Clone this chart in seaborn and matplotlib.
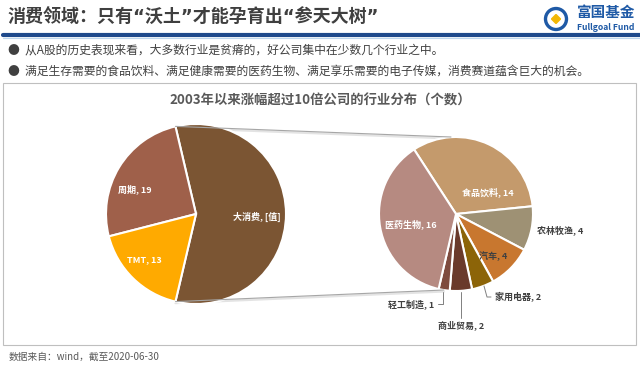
import numpy as np
import matplotlib
matplotlib.use("Agg")
import matplotlib.pyplot as plt
import matplotlib.patches as mpatches
import seaborn as sns

# left pie: sectors
main_labels = ['大消费', '周期', 'TMT']
main_counts = [43, 19, 13]
main_colors = ['#7B5533', '#9F604A', '#FFAA00']

# right pie: breakdown of 大消费 (clockwise from top-left)
sub_labels = ['食品饮料', '农林牧渔', '汽车', '家用电器', '商业贸易', '轻工制造', '医药生物']
sub_counts = [14, 4, 4, 2, 2, 1, 16]
sub_colors = ['#C49A6C', '#9E9174', '#C8772F', '#8C6408', '#6A3A2B', '#7E4B3E', '#B68A81']

W, H = 640, 369

sns.set_theme(style="white")
plt.rcParams['font.family'] = ['Noto Sans CJK SC', 'DejaVu Sans']


def Y(y):
    return H - y


fig = plt.figure(figsize=(6.4, 3.69), dpi=100)
ax = fig.add_axes([0, 0, 1, 1])

# left pie, split slice centred on the right side
c1, r1 = (196, Y(214)), 90
start1 = -180.0 * main_counts[0] / sum(main_counts)
w1, _ = ax.pie(main_counts, colors=main_colors, startangle=start1, counterclock=True,
               center=c1, radius=r1, wedgeprops=dict(edgecolor='white', linewidth=1.5))

# right pie
c2, r2 = (456, Y(214)), 77
w2, _ = ax.pie(sub_counts, colors=sub_colors, startangle=123, counterclock=False,
               center=c2, radius=r2, wedgeprops=dict(edgecolor='white', linewidth=1.5))

ax.set_xlim(0, W)
ax.set_ylim(0, H)
ax.set_aspect('equal')
ax.axis('off')

# connector lines between the pies
a = np.deg2rad(-start1)
top1 = (c1[0] + r1 * np.cos(a), c1[1] + r1 * np.sin(a))
bot1 = (c1[0] + r1 * np.cos(a), c1[1] - r1 * np.sin(a))
for p, q in [(top1, (c2[0] - 5, c2[1] + r2)), (bot1, (c2[0] - 12, c2[1] - r2 + 1))]:
    ax.plot([p[0], q[0]], [p[1] - 1.5, q[1] - 1.5], color='#E3E3E3', lw=1.6, zorder=0)
    ax.plot([p[0], q[0]], [p[1], q[1]], color='#A6A6A6', lw=0.8, zorder=1)

# slice labels
lab = dict(fontsize=6.5, fontweight='bold', ha='center', va='center')
ax.text(257, Y(217), '大消费, [值]', color='white', **lab)
ax.text(135, Y(189), '周期, 19', color='white', **lab)
ax.text(144, Y(260), 'TMT, 13', color='white', **lab)
ax.text(488, Y(192), '食品饮料, 14', color='white', **lab)
ax.text(411, Y(224), '医药生物, 16', color='white', **lab)
ax.text(560, Y(231), '农林牧渔, 4', color='#404040', **lab)
ax.text(493, Y(256), '汽车, 4', color='#404040', **lab)
ax.text(518, Y(297), '家用电器, 2', color='#404040', **lab)
ax.text(411, Y(304), '轻工制造, 1', color='#404040', **lab)
ax.text(461, Y(325), '商业贸易, 2', color='#404040', **lab)

# leader lines
lead = dict(color='#808080', lw=0.7)
ax.plot([484, 487, 491], [Y(286), Y(297), Y(297)], **lead)
ax.plot([438, 443, 443], [Y(304), Y(304), Y(292)], **lead)
ax.plot([461, 461], [Y(292), Y(318)], **lead)

# chart title and frame
ax.text(320, Y(101), '2003年以来涨幅超过10倍公司的行业分布（个数）', fontsize=9.6,
        fontweight='bold', color='#595959', ha='center', va='center')
ax.add_patch(mpatches.Rectangle((3, Y(345)), 633, 262, fill=False,
                                edgecolor='#BFBFBF', lw=0.8))

# header
ax.text(8, Y(18), '消费领域：只有“沃土”才能孕育出“参天大树”', fontsize=13,
        fontweight='bold', color='#3F3F3F', ha='left', va='center',
        family=['DejaVu Sans', 'Noto Sans CJK SC'])
ax.plot([3, W], [Y(35), Y(35)], color='#1F4A8C', lw=3)
ax.plot([3, W], [Y(38), Y(38)], color='#BDD7EE', lw=0.8)

# logo
ax.add_patch(mpatches.Circle((556, Y(19)), 10.5, fill=False, edgecolor='#1F5AA6', lw=2.4))
ax.add_patch(mpatches.RegularPolygon((556, Y(19)), 4, radius=4.5, color='#F2B705'))
ax.text(577, Y(12), '富国基金', fontsize=10.5, fontweight='bold', color='#1F5AA6',
        ha='left', va='center')
ax.text(577, Y(28), 'Fullgoal Fund', fontsize=6.2, fontweight='bold', color='#1F5AA6',
        ha='left', va='center')

# bullets
ax.text(8, Y(50), '●  从A股的历史表现来看，大多数行业是贫瘠的，好公司集中在少数几个行业之中。',
        fontsize=8.5, color='#404040', ha='left', va='center')
ax.text(8, Y(71), '●  满足生存需要的食品饮料、满足健康需要的医药生物、满足享乐需要的电子传媒，消费赛道蕴含巨大的机会。',
        fontsize=8.5, color='#404040', ha='left', va='center')

# footer
ax.text(9, Y(357), '数据来自：wind，截至2020-06-30', fontsize=7, color='#595959',
        ha='left', va='center')

fig.savefig('out.png', dpi=100)
